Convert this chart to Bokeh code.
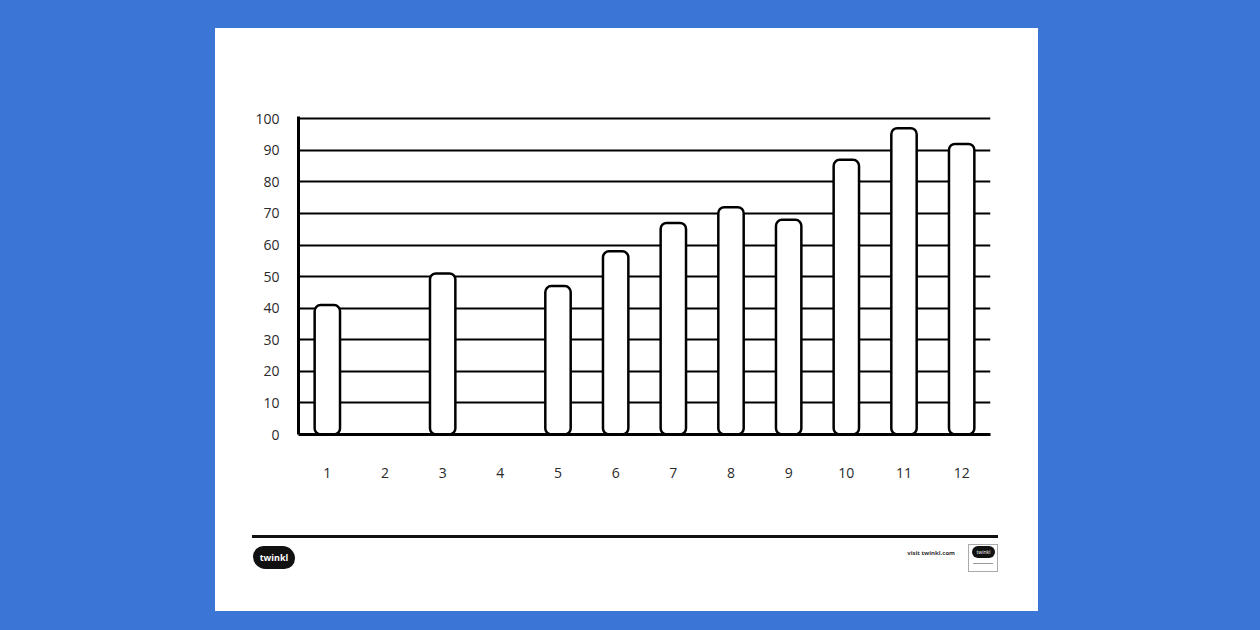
from bokeh.plotting import figure
from bokeh.models import FixedTicker, Range1d, ColumnDataSource, Div
from bokeh.layouts import column
from bokeh.embed import file_html
from bokeh.resources import INLINE

# ---- data ----
categories = ["1", "2", "3", "4", "5", "6", "7", "8", "9", "10", "11", "12"]
values = [41, 0, 51, 0, 47, 58, 67, 72, 68, 87, 97, 92]
y_ticks = [0, 10, 20, 30, 40, 50, 60, 70, 80, 90, 100]

FONT = "Open Sans"
BLUE = "#3b75d6"

bar_cats = [c for c, v in zip(categories, values) if v > 0]
bar_vals = [v for v in values if v > 0]
src = ColumnDataSource(data=dict(cat=bar_cats, val=bar_vals))

p = figure(x_range=categories, y_range=Range1d(0, 100.7),
           width=823, height=480, output_backend="svg", toolbar_location=None,
           title=None, min_border_left=83, min_border_right=48,
           min_border_top=88, min_border_bottom=74)
p.background_fill_color = "white"
p.border_fill_color = "white"
p.outline_line_color = None
p.styles = {"background-color": "white"}
p.margin = (0, 0, 0, 0)

p.vbar(x="cat", top="val", bottom=0, width=0.44, source=src,
       fill_color="white", line_color="black", line_width=2.5,
       border_radius=6)

p.xgrid.visible = False
p.ygrid.ticker = FixedTicker(ticks=y_ticks)
p.ygrid.grid_line_color = "black"
p.ygrid.grid_line_width = 2

p.yaxis.ticker = FixedTicker(ticks=y_ticks)
for ax in (p.xaxis, p.yaxis):
    ax.axis_line_width = 3
    ax.axis_line_color = "black"
    ax.major_tick_line_color = None
    ax.minor_tick_line_color = None
    ax.major_label_text_font = FONT
    ax.major_label_text_font_size = "14px"
    ax.major_label_text_color = "#2a2a2a"
p.yaxis.major_label_standoff = 13
p.xaxis.major_label_standoff = 27

# ---- footer (HTML) ----
footer_html = f"""
<div style="position:relative;width:823px;height:103px;background:white;">
  <div style="position:absolute;left:37px;top:27px;width:746px;height:3px;background:#111;"></div>
  <div style="position:absolute;left:38px;top:38px;width:42px;height:23px;background:#111;
       border-radius:11px 13px 11px 13px;color:white;font:bold 9px '{FONT}';text-align:center;
       line-height:23px;">twinkl</div>
  <div style="position:absolute;left:660px;top:41px;width:80px;text-align:right;color:#333;
       font:bold 6px '{FONT}';">visit twinkl.com</div>
  <div style="position:absolute;left:753px;top:36px;width:30px;height:28px;border:1px solid #aaa;
       background:white;"></div>
  <div style="position:absolute;left:757px;top:38px;width:23px;height:12px;background:#111;
       border-radius:6px;color:white;font:5px '{FONT}';text-align:center;line-height:12px;">twinkl</div>
  <div style="position:absolute;left:758px;top:55px;width:20px;height:1px;background:#999;"></div>
</div>
"""
footer = Div(text=footer_html, width=823, height=103, margin=(0, 0, 0, 0),
             styles={"background-color": "white"})

layout = column(p, footer, spacing=0)
layout.margin = (28, 0, 0, 215)
layout.styles = {"background-color": "white"}

html = file_html(layout, INLINE)
html = html.replace("<head>", "<head><style>html,body{background:%s;}</style>" % BLUE, 1)
open("out.html", "w").write(html)
